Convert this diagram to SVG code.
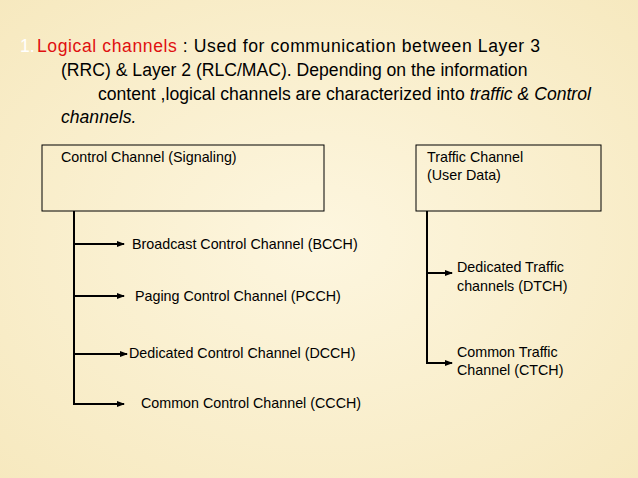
<svg xmlns="http://www.w3.org/2000/svg" width="638" height="478" viewBox="0 0 638 478">
<defs>
<radialGradient id="bg" cx="0.5" cy="0.5" r="0.75">
<stop offset="0" stop-color="#fdf6df"/><stop offset="1" stop-color="#f6e8bd"/>
</radialGradient>
<marker id="ah" markerWidth="8" markerHeight="6" refX="7" refY="3" orient="auto" markerUnits="userSpaceOnUse">
<path d="M0,0 L8,3 L0,6 z" fill="#000"/>
</marker>
<style>
text{font-family:"Liberation Sans",Arial,sans-serif;font-size:14.3px;fill:#000}
.h{font-size:17.6px}
.box{fill:none;stroke:#000;stroke-width:1}
.c{stroke:#000;stroke-width:2;fill:none}
.a{stroke:#000;stroke-width:2;fill:none;marker-end:url(#ah)}
</style>
</defs>
<rect width="638" height="478" fill="url(#bg)"/>
<g id="title">
<text class="h" x="20" y="52"><tspan fill="#fff">1.</tspan></text>
<text class="h" x="37" y="52" textLength="503" lengthAdjust="spacing"><tspan fill="#e01010">Logical channels</tspan> : Used for communication between Layer 3</text>
<text class="h" x="61" y="76">(RRC) &amp; Layer 2 (RLC/MAC). Depending on the information</text>
<text class="h" x="98" y="100">content ,logical channels are characterized into <tspan font-style="italic">traffic &amp; Control</tspan></text>
<text class="h" x="61" y="123" font-style="italic">channels.</text>
</g>
<g id="control">
<rect class="box" x="42" y="145" width="282" height="66"/>
<text x="61" y="162">Control Channel (Signaling)</text>
</g>
<g id="traffic">
<rect class="box" x="416" y="145" width="185" height="66"/>
<text x="427" y="162">Traffic Channel</text>
<text x="427" y="180">(User Data)</text>
</g>
<g id="bcch"><text x="132" y="249">Broadcast Control Channel (BCCH)</text></g>
<g id="pcch"><text x="135" y="301">Paging Control Channel (PCCH)</text></g>
<g id="dcch"><text x="129" y="358">Dedicated Control Channel (DCCH)</text></g>
<g id="ccch"><text x="141" y="408">Common Control Channel (CCCH)</text></g>
<g id="dtch"><text x="457" y="272">Dedicated Traffic</text><text x="457" y="291">channels (DTCH)</text></g>
<g id="ctch"><text x="457" y="357">Common Traffic</text><text x="457" y="375">Channel (CTCH)</text></g>
<g id="connectors">
<path class="c" d="M74,211 V405"/>
<path class="a" d="M73,244 H124"/>
<path class="a" d="M73,296 H124"/>
<path class="a" d="M73,354 H127"/>
<path class="a" d="M73,404 H124"/>
<path class="c" d="M427,211 V364"/>
<path class="a" d="M426,273 H452"/>
<path class="a" d="M426,363 H452"/>
</g>
</svg>
